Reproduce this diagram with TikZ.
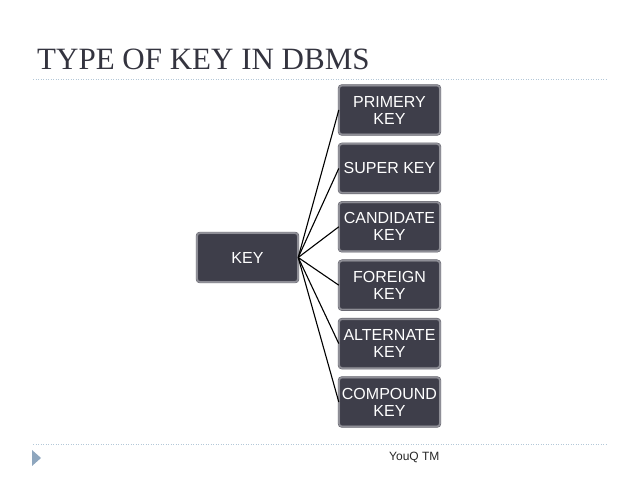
\documentclass[tikz,border=0pt]{standalone}
\usepackage{fontspec}
\setmainfont{Liberation Serif}
\setsansfont{Liberation Sans}
\usetikzlibrary{positioning}
\definecolor{boxfill}{HTML}{3E3E4A}
\definecolor{boxedge}{HTML}{8E8E96}
\definecolor{boxrim}{HTML}{55555F}
\definecolor{titlegray}{HTML}{34343F}
\definecolor{rulecol}{HTML}{B4C8D8}
\definecolor{bullet}{HTML}{8EA6BE}
\tikzset{
  keybox/.style={rectangle, rounded corners=3pt, fill=boxfill, draw=boxrim,
    double=boxedge, double distance=1.6pt, minimum width=101pt, minimum height=49pt,
    inner sep=1pt, align=center, text=white, font=\sffamily\fontsize{16}{17}\selectfont},
  dotrule/.style={rulecol, line width=0.8pt, dash pattern=on 1pt off 1.5pt}
}
\begin{document}
\begin{tikzpicture}[x=1pt,y=-1pt]
\useasboundingbox (0,0) rectangle (638,478);
		% title
		\node (title) [anchor=base west, inner sep=0pt, text=titlegray, font=\fontsize{31}{31}\selectfont] at (37,70) {TYPE OF KEY IN DBMS};
		\draw[dotrule] (33,79) -- (608,79);
		% keys
		\node (key) [keybox] at (247.5,257.5) {KEY};
		\node (k1) [keybox] at (389.5,110) {PRIMERY\\KEY};
		\node (k2) [keybox, below=9pt of k1] {SUPER KEY};
		\node (k3) [keybox, below=9pt of k2] {CANDIDATE\\KEY};
		\node (k4) [keybox, below=9pt of k3] {FOREIGN\\KEY};
		\node (k5) [keybox, below=9pt of k4] {ALTERNATE\\KEY};
		\node (k6) [keybox, below=9pt of k5] {COMPOUND\\KEY};
		\draw[line width=1.1pt] (key.east) -- (k1.west);
		\draw[line width=1.1pt] (key.east) -- (k2.west);
		\draw[line width=1.1pt] (key.east) -- (k3.west);
		\draw[line width=1.1pt] (key.east) -- (k4.west);
		\draw[line width=1.1pt] (key.east) -- (k5.west);
		\draw[line width=1.1pt] (key.east) -- (k6.west);
		% footer
		\draw[dotrule] (33,444) -- (608,444);
		\fill[bullet] (32,450) -- (41,458) -- (32,466) -- cycle;
		\node (foot) [anchor=base west, inner sep=0pt, font=\sffamily\fontsize{12}{12}\selectfont, text=black!85] at (389,461) {YouQ TM};
		\end{tikzpicture}
\end{document}
